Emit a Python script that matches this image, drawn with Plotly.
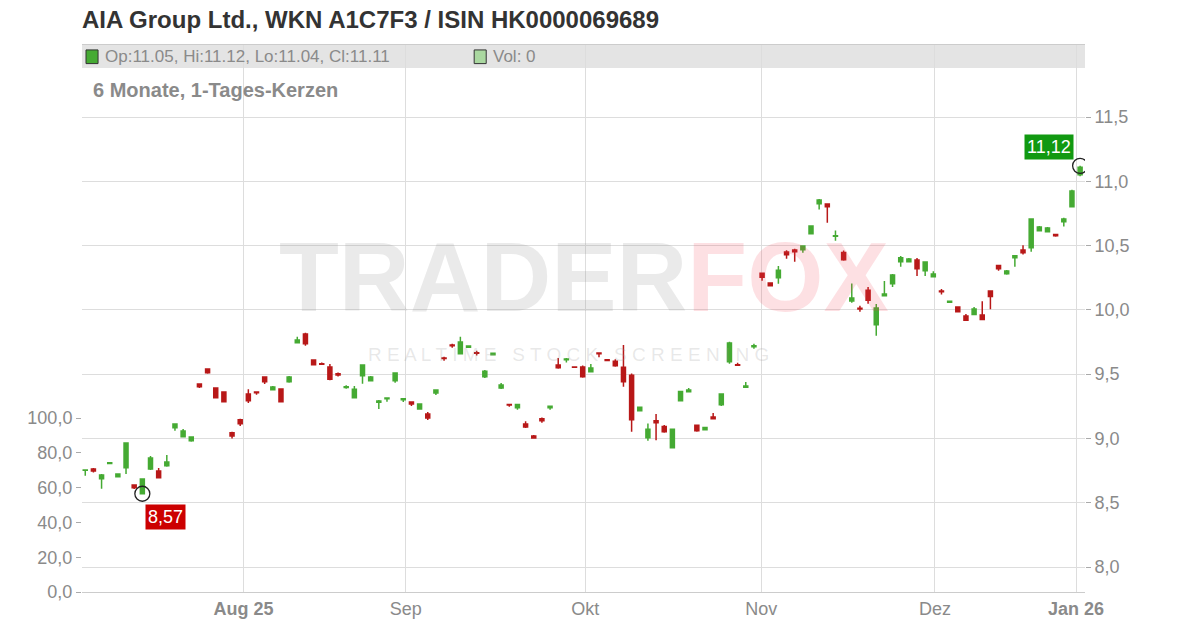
import plotly.graph_objects as go

opens = [8.752, 8.762, 8.687, 8.805, 8.702, 8.772, 8.638, 8.570, 8.762, 8.747,
         8.788, 9.083, 9.014, 8.982, 9.423, 9.540, 9.392, 9.361, 9.045, 9.146,
         9.346, 9.361, 9.478, 9.379, 9.384, 9.441, 9.745, 9.812, 9.610, 9.582,
         9.556, 9.504, 9.397, 9.317, 9.488, 9.449, 9.281, 9.309, 9.449, 9.301,
         9.283, 9.229, 9.190, 9.353, 9.626, 9.727, 9.659, 9.709, 9.667, 9.480,
         9.651, 9.392, 9.265, 9.239, 9.112, 9.019, 9.153, 9.239, 9.571, 9.613,
         9.556, 9.556, 9.519, 9.664, 9.612, 9.600, 9.553, 9.491, 9.216, 9.006,
         9.138, 9.094, 8.928, 9.294, 9.364, 9.102, 9.068, 9.167, 9.262, 9.597,
         9.574, 9.398, 9.714, 10.284, 10.209, 10.250, 10.450, 10.466, 10.468, 10.592,
         10.826, 10.823, 10.572, 10.447, 10.069, 10.012, 10.152, 9.885, 10.110, 10.204,
         10.375, 10.375, 10.388, 10.305, 10.258, 10.147, 10.059, 10.022, 9.952, 9.965,
         9.960, 10.147, 10.346, 10.281, 10.406, 10.466, 10.484, 10.616, 10.608, 10.587,
         10.686, 10.802, 11.05]
highs = [8.755, 8.770, 8.723, 8.817, 8.730, 8.964, 8.638, 8.684, 8.863, 8.770,
         8.871, 9.112, 9.073, 9.011, 9.423, 9.540, 9.392, 9.361, 9.053, 9.154,
         9.382, 9.361, 9.478, 9.408, 9.384, 9.486, 9.791, 9.822, 9.610, 9.590,
         9.579, 9.514, 9.413, 9.408, 9.571, 9.486, 9.299, 9.314, 9.509, 9.314,
         9.283, 9.268, 9.206, 9.377, 9.636, 9.737, 9.791, 9.719, 9.683, 9.532,
         9.662, 9.431, 9.265, 9.265, 9.133, 9.027, 9.164, 9.257, 9.626, 9.626,
         9.556, 9.567, 9.579, 9.664, 9.619, 9.616, 9.727, 9.506, 9.242, 9.117,
         9.190, 9.104, 9.071, 9.366, 9.392, 9.102, 9.086, 9.198, 9.346, 9.752,
         9.588, 9.439, 9.737, 10.284, 10.209, 10.341, 10.463, 10.476, 10.497, 10.652,
         10.862, 10.823, 10.618, 10.462, 10.206, 10.032, 10.178, 10.045, 10.224, 10.279,
         10.419, 10.404, 10.404, 10.372, 10.300, 10.162, 10.067, 10.022, 9.968, 10.022,
         10.067, 10.152, 10.346, 10.310, 10.427, 10.502, 10.707, 10.652, 10.644, 10.587,
         10.717, 10.935, 11.12]
lows = [8.710, 8.736, 8.609, 8.805, 8.702, 8.723, 8.607, 8.570, 8.755, 8.695,
        8.780, 9.060, 9.014, 8.974, 9.392, 9.503, 9.317, 9.286, 9.000, 9.097,
        9.276, 9.340, 9.423, 9.379, 9.286, 9.433, 9.745, 9.721, 9.573, 9.573,
        9.452, 9.482, 9.387, 9.317, 9.426, 9.449, 9.229, 9.286, 9.433, 9.283,
        9.252, 9.229, 9.143, 9.338, 9.605, 9.706, 9.659, 9.709, 9.646, 9.470,
        9.651, 9.384, 9.247, 9.223, 9.081, 9.003, 9.122, 9.223, 9.543, 9.590,
        9.553, 9.472, 9.519, 9.631, 9.604, 9.558, 9.402, 9.052, 9.216, 8.982,
        8.987, 9.045, 8.928, 9.294, 9.364, 9.052, 9.068, 9.154, 9.252, 9.582,
        9.569, 9.398, 9.698, 10.227, 10.188, 10.203, 10.397, 10.375, 10.445, 10.592,
        10.780, 10.678, 10.537, 10.382, 10.056, 9.986, 10.048, 9.799, 10.110, 10.178,
        10.336, 10.375, 10.263, 10.263, 10.258, 10.120, 10.059, 9.986, 9.919, 9.965,
        9.926, 10.004, 10.305, 10.274, 10.336, 10.430, 10.453, 10.616, 10.608, 10.569,
        10.648, 10.802, 11.04]
closes = [8.755, 8.747, 8.716, 8.812, 8.723, 8.964, 8.617, 8.684, 8.848, 8.695,
          8.817, 9.112, 9.058, 9.011, 9.402, 9.511, 9.317, 9.286, 9.019, 9.115,
          9.294, 9.356, 9.441, 9.400, 9.286, 9.478, 9.766, 9.737, 9.573, 9.578,
          9.460, 9.494, 9.402, 9.382, 9.571, 9.478, 9.291, 9.314, 9.509, 9.309,
          9.268, 9.268, 9.159, 9.377, 9.621, 9.722, 9.750, 9.719, 9.662, 9.522,
          9.662, 9.416, 9.260, 9.265, 9.089, 9.003, 9.138, 9.250, 9.550, 9.618,
          9.553, 9.480, 9.548, 9.659, 9.607, 9.566, 9.441, 9.146, 9.242, 9.071,
          9.123, 9.052, 9.071, 9.366, 9.377, 9.060, 9.086, 9.154, 9.346, 9.742,
          9.569, 9.408, 9.722, 10.253, 10.188, 10.308, 10.429, 10.453, 10.497, 10.652,
          10.854, 10.802, 10.577, 10.390, 10.092, 10.007, 10.074, 10.014, 10.123, 10.271,
          10.406, 10.396, 10.320, 10.372, 10.279, 10.142, 10.067, 9.986, 9.919, 10.007,
          9.926, 10.105, 10.320, 10.302, 10.421, 10.445, 10.707, 10.644, 10.636, 10.577,
          10.707, 10.924, 11.11]
days = list(range(len(opens)))

month_pos = [19.4, 39.3, 61.3, 82.9, 104.2, 121.5]
month_labels = ["<b>Aug 25</b>", "Sep", "Okt", "Nov", "Dez", "<b>Jan 26</b>"]
price_ticks = [8.0, 8.5, 9.0, 9.5, 10.0, 10.5, 11.0, 11.5]
vol_ticks = [0, 20, 40, 60, 80, 100]

GREEN = "#45aa33"
RED = "#b81818"
GREY = "#8a8a8a"

lo_i = lows.index(min(lows))
hi_i = highs.index(max(highs))

fig = go.Figure()
fig.add_trace(go.Candlestick(
    x=days, open=opens, high=highs, low=lows, close=closes,
    increasing=dict(line=dict(color=GREEN, width=1.5), fillcolor=GREEN),
    decreasing=dict(line=dict(color=RED, width=1.5), fillcolor=RED),
    whiskerwidth=0, showlegend=False, hoverinfo="skip",
))
fig.add_trace(go.Scatter(
    x=[days[lo_i], days[hi_i]], y=[lows[lo_i], highs[hi_i]], mode="markers",
    marker=dict(size=15, color="rgba(0,0,0,0)", line=dict(color="#222", width=1.3)),
    showlegend=False, hoverinfo="skip",
))
# leere Spur fuer die Volumenachse
fig.add_trace(go.Scatter(x=[None], y=[None], yaxis="y2", showlegend=False))

fig.add_annotation(x=days[lo_i], y=lows[lo_i], text=f"{lows[lo_i]:.2f}".replace(".", ","),
                   showarrow=False, xanchor="left", yanchor="top", xshift=3, yshift=-10,
                   bgcolor="#cc0000", font=dict(color="white", size=18, family="Liberation Sans"),
                   borderpad=2)
fig.add_annotation(x=days[hi_i], y=highs[hi_i], text=f"{highs[hi_i]:.2f}".replace(".", ","),
                   showarrow=False, xanchor="right", yanchor="bottom", xshift=-6, yshift=6,
                   bgcolor="#119911", font=dict(color="white", size=18, family="Liberation Sans"),
                   borderpad=2)

# Wasserzeichen
fig.add_annotation(xref="paper", yref="paper", x=0.5, y=0.575, showarrow=False,
                   text="<b><span style='color:rgba(150,150,150,0.2)'>TRADER</span>"
                        "<span style='color:rgba(240,60,80,0.16)'>FOX</span></b>",
                   font=dict(size=98, family="Liberation Sans"))
fig.add_annotation(xref="paper", yref="paper", x=0.485, y=0.435, showarrow=False,
                   text="R E A L T I M E   S T O C K   S C R E E N I N G",
                   font=dict(size=19, color="rgba(150,150,150,0.22)", family="Liberation Sans"))

# Kopfleiste
fig.add_shape(type="rect", xref="paper", yref="paper", x0=0, x1=1, y0=0.958, y1=1,
              fillcolor="#e4e4e4", line_width=0, layer="below")
fig.add_shape(type="rect", xref="paper", yref="paper", x0=0.004, x1=0.016, y0=0.966, y1=0.991,
              fillcolor=GREEN, line=dict(color="#333", width=1))
fig.add_shape(type="rect", xref="paper", yref="paper", x0=0.391, x1=0.403, y0=0.966, y1=0.991,
              fillcolor="#aad8a0", line=dict(color="#333", width=1))
fig.add_annotation(xref="paper", yref="paper", x=0.021, y=0.979, xanchor="left", yanchor="middle",
                   showarrow=False,
                   text=f"Op:{opens[-1]:.2f}, Hi:{highs[-1]:.2f}, Lo:{lows[-1]:.2f}, Cl:{closes[-1]:.2f}",
                   font=dict(size=17, color=GREY))
fig.add_annotation(xref="paper", yref="paper", x=0.408, y=0.979, xanchor="left", yanchor="middle",
                   showarrow=False, text="Vol: 0", font=dict(size=17, color=GREY))
fig.add_annotation(xref="paper", yref="paper", x=0.009, y=0.918, xanchor="left", yanchor="middle",
                   showarrow=False, text="<b>6 Monate, 1-Tages-Kerzen</b>",
                   font=dict(size=20, color=GREY))

fig.update_layout(
    width=1200, height=628,
    margin=dict(l=82, r=115, t=45, b=36, autoexpand=False),
    paper_bgcolor="white", plot_bgcolor="white",
    font=dict(family="Liberation Sans", color=GREY),
    separators=",.",
    title=dict(text="<b>AIA Group Ltd., WKN A1C7F3 / ISIN HK0000069689</b>",
               x=82 / 1200, xanchor="left", y=0.968, yanchor="middle",
               font=dict(size=24, color="#333"), automargin=False),
    xaxis=dict(range=[-0.4, 122.6], tickvals=month_pos, ticktext=month_labels,
               showgrid=True, gridcolor="#dddddd", rangeslider=dict(visible=False),
               tickfont=dict(size=18, color=GREY), ticks="", zeroline=False,
               showline=True, linecolor="#cccccc", mirror=True, automargin=False),
    yaxis=dict(side="right", range=[7.806, 12.06], tickvals=price_ticks, tickformat=".1f",
               showgrid=True, gridcolor="#dddddd", tickfont=dict(size=18, color=GREY),
               ticks="outside", ticklen=5, tickcolor="#aaaaaa", zeroline=False,
               automargin=False),
    yaxis2=dict(side="left", overlaying="y", range=[0, 314.4], tickvals=vol_ticks,
                tickformat=".1f", showgrid=False, tickfont=dict(size=18, color=GREY),
                ticks="outside", ticklen=5, tickcolor="#aaaaaa", zeroline=False,
                automargin=False),
)

fig.write_html("out.html", config={"displayModeBar": False},
               post_script="document.body.style.margin='0';")
